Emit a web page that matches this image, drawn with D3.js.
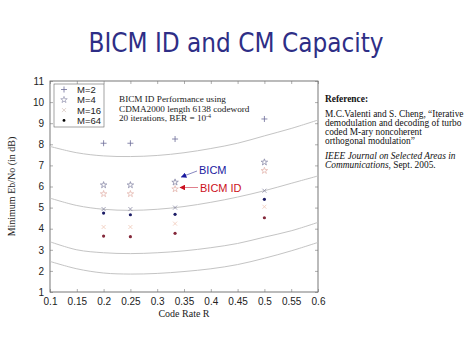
<!DOCTYPE html>
<html><head><meta charset="utf-8">
<script src="https://cdn.jsdelivr.net/npm/d3@7"></script>
<style>body{margin:0;background:#fff}svg{display:block}</style>
</head><body><svg id="c" width="474" height="355"></svg>
<script>
// ---- data ----
const rates = [0.2, 0.25, 1/3, 0.5];
const m2 = [8.05, 8.05, 8.25, 9.2];
const m4Bicm = [6.07, 6.07, 6.2, 7.15];
const m4Id = [5.65, 5.65, 5.88, 6.75];
const m16Bicm = [4.93, 4.93, 5.0, 5.8];
const m16Id = [4.08, 4.08, 4.24, 5.04];
const m64Bicm = [4.74, 4.66, 4.68, 5.39];
const m64Id = [3.65, 3.62, 3.78, 4.52];
const capRates = [0.1, 0.15, 0.2, 0.25, 0.3, 0.35, 0.4, 0.45, 0.5, 0.55, 0.6];
const capM2 = [7.9, 7.6, 7.45, 7.42, 7.47, 7.6, 7.8, 8.05, 8.4, 8.75, 9.15];
const capM4 = [5.45, 5.1, 4.92, 4.87, 4.92, 5.05, 5.25, 5.5, 5.8, 6.15, 6.5];
const capM16 = [3.38, 3.0, 2.86, 2.82, 2.86, 2.95, 3.1, 3.3, 3.6, 3.9, 4.3];
const capM64 = [2.45, 2.1, 1.9, 1.85, 1.88, 1.97, 2.1, 2.3, 2.6, 2.95, 3.35];
const xTicks = [0.1, 0.15, 0.2, 0.25, 0.3, 0.35, 0.4, 0.45, 0.5, 0.55, 0.6];
const yTicks = [1, 2, 3, 4, 5, 6, 7, 8, 9, 10, 11];
const legendLabels = ["M=2", "M=4", "M=16", "M=64"];
const infoLines = ["BICM ID Performance using", "CDMA2000 length 6138 codeword"];

const svg = d3.select("#c");
const L = 50, R = 318, T = 81, B = 292;
const x = d3.scaleLinear().domain([0.1, 0.6]).range([L, R]);
const y = d3.scaleLinear().domain([1, 11]).range([B, T]);

// title
svg.append("text").attr("x", 236).attr("y", 52).attr("text-anchor", "middle")
  .attr("font-family", "Tahoma, 'DejaVu Sans', sans-serif").attr("font-size", 27)
  .attr("fill", "#2e2e86").attr("textLength", 295).attr("lengthAdjust", "spacingAndGlyphs")
  .text("BICM ID and CM Capacity");

// frame
svg.append("rect").attr("x", L).attr("y", T).attr("width", R - L).attr("height", B - T)
  .attr("fill", "none").attr("stroke", "#555").attr("stroke-width", 0.8);

// axes with inward ticks
const gx = svg.append("g").attr("transform", `translate(0,${B})`)
  .call(d3.axisBottom(x).tickValues(xTicks).tickSize(-3).tickPadding(6).tickFormat(d3.format("~g")));
const gxt = svg.append("g").attr("transform", `translate(0,${T})`)
  .call(d3.axisTop(x).tickValues(xTicks).tickSize(-3).tickFormat(""));
const gy = svg.append("g").attr("transform", `translate(${L},0)`)
  .call(d3.axisLeft(y).tickValues(yTicks).tickSize(-3).tickPadding(6));
const gyr = svg.append("g").attr("transform", `translate(${R},0)`)
  .call(d3.axisRight(y).tickValues(yTicks).tickSize(-3).tickFormat(""));
[gx, gxt, gy, gyr].forEach(g => {
  g.select(".domain").remove();
  g.selectAll("line").attr("stroke", "#777").attr("stroke-width", 0.6);
  g.selectAll("text").attr("font-family", "'Liberation Sans', Arial, sans-serif")
    .attr("font-size", 10).attr("fill", "#222");
});

// axis labels
svg.append("text").attr("transform", `translate(15,${(T + B) / 2}) rotate(-90)`)
  .attr("text-anchor", "middle").attr("font-family", "'Liberation Serif', serif")
  .attr("font-size", 10).attr("fill", "#222").text("Minimum Eb/No (in dB)");
svg.append("text").attr("x", (L + R) / 2).attr("y", 317).attr("text-anchor", "middle")
  .attr("font-family", "'Liberation Serif', serif").attr("font-size", 10).attr("fill", "#222")
  .text("Code Rate R");

// capacity curves
const line = d3.line().x(d => x(d[0])).y(d => y(d[1])).curve(d3.curveCatmullRom);
[capM2, capM4, capM16, capM64].forEach(arr => {
  svg.append("path").datum(capRates.map((r, i) => [r, arr[i]]))
    .attr("d", line).attr("fill", "none").attr("stroke", "#c4c4c4").attr("stroke-width", 1);
});

// marker drawers
const plus = "M-3,0H3M0,-3V3";
const cross = "M-2,-2L2,2M-2,2L2,-2";
const star = d3.symbol().type(d3.symbolStar).size(13)();
function draw(vals, kind, color) {
  const g = svg.append("g");
  rates.forEach((r, i) => {
    const t = `translate(${x(r)},${y(vals[i])})`;
    if (kind === "dot") g.append("circle").attr("cx", x(r)).attr("cy", y(vals[i])).attr("r", 1.6).attr("fill", color);
    else g.append("path").attr("transform", t).attr("d", kind === "plus" ? plus : kind === "star" ? star : cross)
      .attr("fill", "none").attr("stroke", color).attr("stroke-width", 0.8);
  });
}
draw(m2, "plus", "#6c6c98");
draw(m4Bicm, "star", "#8a8aa8");
draw(m4Id, "star", "#e4b8b0");
draw(m16Bicm, "cross", "#8c8ca4");
draw(m16Id, "cross", "#f0c8b8");
draw(m64Bicm, "dot", "#1c1c66");
draw(m64Id, "dot", "#84283a");

// legend
svg.append("rect").attr("x", 54).attr("y", 84).attr("width", 50).attr("height", 43)
  .attr("fill", "#fff").attr("stroke", "#666").attr("stroke-width", 0.6);
const legendKinds = [["plus", "#6c6c98"], ["star", "#a0a0b8"], ["cross", "#d8c8c0"], ["dot", "#000"]];
legendLabels.forEach((lab, i) => {
  const cy = 89.5 + i * 10.3;
  const [k, c] = legendKinds[i];
  if (k === "dot") svg.append("circle").attr("cx", 64).attr("cy", cy).attr("r", 1.4).attr("fill", c);
  else svg.append("path").attr("transform", `translate(64,${cy})`)
    .attr("d", k === "plus" ? plus : k === "star" ? star : cross)
    .attr("fill", "none").attr("stroke", c).attr("stroke-width", 0.8);
  svg.append("text").attr("x", 77).attr("y", cy + 3.5).attr("font-family", "'Liberation Sans', Arial, sans-serif")
    .attr("font-size", 9.5).attr("fill", "#222").text(lab);
});

// info text
const info = svg.append("g").attr("font-family", "'Liberation Serif', serif").attr("font-size", 9.2).attr("fill", "#222");
infoLines.forEach((s, i) => info.append("text").attr("x", 119).attr("y", 102 + i * 9.6).text(s));
const t3 = info.append("text").attr("x", 119).attr("y", 121.2);
t3.append("tspan").text("20 iterations,  BER = 10");
t3.append("tspan").attr("font-size", 6).attr("dy", -3).text("-4");

// annotations
const defs = svg.append("defs");
[["ab", "#1a1aa0"], ["ar", "#cc1020"]].forEach(([id, c]) => {
  defs.append("marker").attr("id", id).attr("viewBox", "0 0 10 10").attr("refX", 9).attr("refY", 5)
    .attr("markerWidth", 7).attr("markerHeight", 7).attr("orient", "auto")
    .append("path").attr("d", "M0,0L10,5L0,10z").attr("fill", c);
});
svg.append("line").attr("x1", 197).attr("y1", 171).attr("x2", x(0.345)).attr("y2", y(6.45))
  .attr("stroke", "#6a6ab0").attr("stroke-width", 0.8).attr("marker-end", "url(#ab)");
svg.append("text").attr("x", 199).attr("y", 173.5).attr("font-family", "'Liberation Sans', Arial, sans-serif")
  .attr("font-size", 11).attr("fill", "#1a1aa0").text("BICM");
svg.append("line").attr("x1", 198).attr("y1", 187.5).attr("x2", x(0.3425)).attr("y2", 187.5)
  .attr("stroke", "#d86070").attr("stroke-width", 0.8).attr("marker-end", "url(#ar)");
svg.append("text").attr("x", 200).attr("y", 191.5).attr("font-family", "'Liberation Sans', Arial, sans-serif")
  .attr("font-size", 11).attr("fill", "#cc1020").text("BICM ID");

// reference block
const ref = svg.append("g").attr("font-family", "'Liberation Serif', serif").attr("font-size", 9.4).attr("fill", "#111");
ref.append("text").attr("x", 325).attr("y", 102).attr("font-weight", "bold").text("Reference:");
["M.C.Valenti and S. Cheng, \u201cIterative", "demodulation and decoding of turbo",
 "coded M-ary noncoherent", "orthogonal modulation\u201d"].forEach((s, i) =>
  ref.append("text").attr("x", 325).attr("y", 116.5 + i * 9).text(s));
const r1 = ref.append("text").attr("x", 325).attr("y", 158.5).attr("font-style", "italic");
r1.text("IEEE Journal on Selected Areas in");
const r2 = ref.append("text").attr("x", 325).attr("y", 168);
r2.append("tspan").attr("font-style", "italic").text("Communications");
r2.append("tspan").text(", Sept. 2005.");
</script></body></html>
